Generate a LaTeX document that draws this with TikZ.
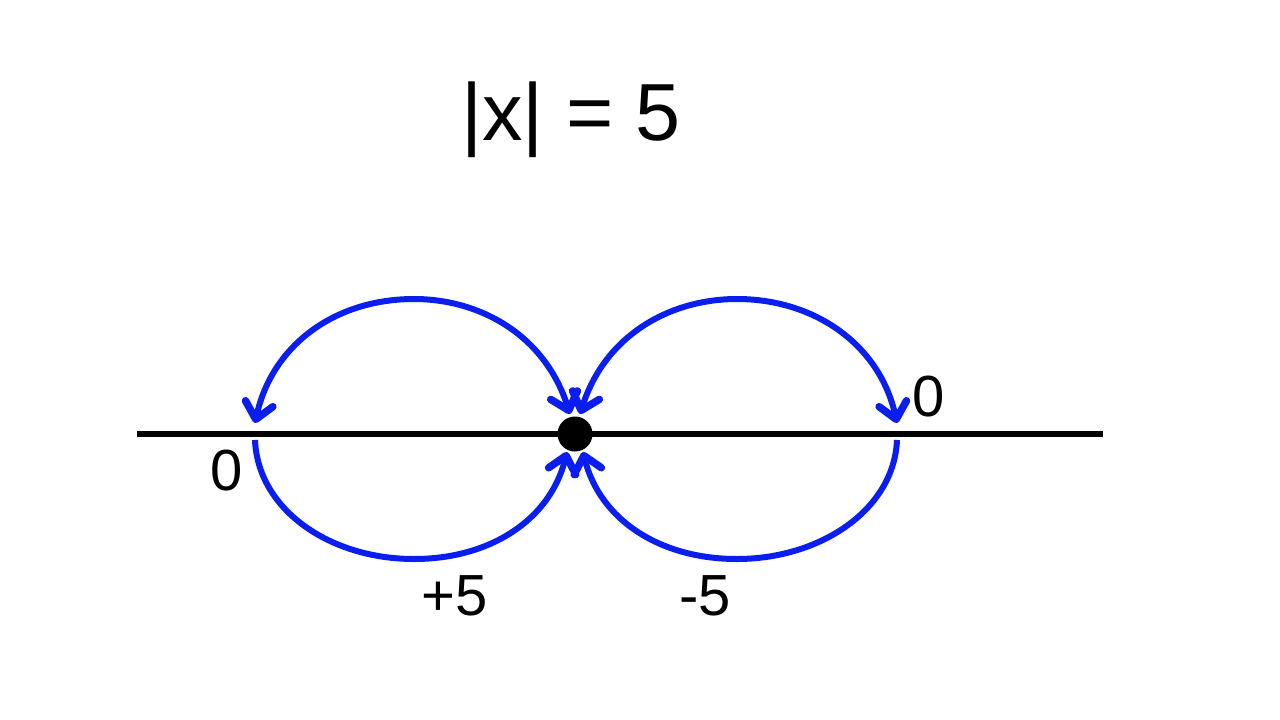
\documentclass[tikz,border=0pt]{standalone}
\usepackage{fontspec}
\setmainfont{Liberation Sans}
\usetikzlibrary{positioning,arrows.meta}
\definecolor{arcblue}{RGB}{10,30,240}
\begin{document}
\begin{tikzpicture}[x=1pt,y=-1pt,
    label/.style={inner sep=0pt, font=\fontsize{58}{58}\selectfont},
    arc/.style={draw=arcblue, line width=6pt},
    barb/.tip={Straight Barb[length=16pt,width=28pt,line width=7.5pt,round]},
    axis/.style={draw=black, line width=6pt}
]
\useasboundingbox (0,0) rectangle (1280,720);
% Number line
\coordinate (lineL) at (137,434);
\coordinate (lineR) at (1103,434);
\draw[axis] (lineL) -- (lineR);
\node[circle, fill=black, inner sep=0pt, minimum size=35pt] (dot) at (575,434) {};
\coordinate (zeroL) at (255,440);
\coordinate (zeroR) at (897,440);
\coordinate (tipL) at (255,423);
\coordinate (tipR) at (897,423);
\coordinate (topinL) at (570,414);
\coordinate (topinR) at (580,414);
\coordinate (botinL) at (567,452);
\coordinate (botinR) at (583,452);
% Upper arcs
\draw[arc, {barb}-{barb}] (topinL) .. controls (545,335) and (480,299) .. (414,299) .. controls (335,299) and (272,345) .. (tipL);
\draw[arc, {barb}-{barb}] (topinR) .. controls (605,335) and (670,299) .. (737,299) .. controls (815,299) and (880,345) .. (tipR);
% Lower arcs
\draw[arc, -{barb}] (zeroL) .. controls (258,510) and (330,559) .. (414,559) .. controls (490,559) and (550,520) .. (botinL);
\draw[arc, -{barb}] (zeroR) .. controls (894,510) and (820,559) .. (737,559) .. controls (660,559) and (600,520) .. (botinR);
% Labels
\node[label, font=\fontsize{81}{81}\selectfont] (title) at (571,120) {|x| = 5};
\node[label] (zeroLabelL) at (227,471) {0};
\node[label] (zeroLabelR) at (929,397) {0};
\node[label] (plusFive) at (455,596) {+5};
\node[label] (minusFive) at (705,596) {-5};
\end{tikzpicture}
\end{document}
